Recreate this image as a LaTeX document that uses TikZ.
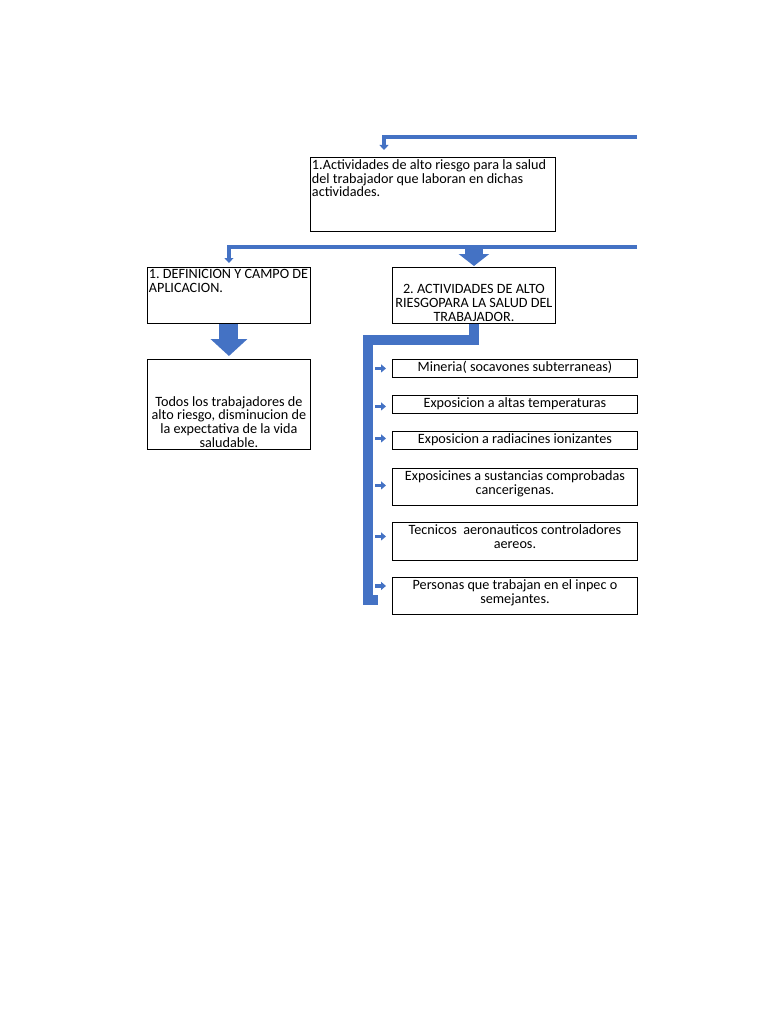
\documentclass[tikz,border=0pt]{standalone}
\usepackage{fontspec}
\setmainfont{Carlito}
\usetikzlibrary{arrows.meta}
\definecolor{officeblue}{RGB}{68,114,196}
\newcommand{\boxtext}[4]{\parbox[t][#2][#3]{#1}{#4}}
\tikzset{
    box/.style={draw, line width=0.9pt, inner ysep=2pt, inner xsep=1.5pt, anchor=north west, font=\fontsize{14.2}{13.8}\selectfont},
    feed/.style={officeblue, line width=4.5pt, -{Triangle[width=9pt,length=5pt]}},
    bigarrow/.style={officeblue, line width=19pt, -{Triangle[width=36pt,length=17pt]}},
    smallbig/.style={officeblue, line width=18pt, -{Triangle[width=30pt,length=12pt]}},
    elbow/.style={officeblue, line width=10pt, line join=miter},
    itemarrow/.style={officeblue, line width=3.5pt, -{Triangle[width=8pt,length=5pt]}}
}
\frenchspacing
\begin{document}
\begin{tikzpicture}[x=1pt, y=-1pt]
    \useasboundingbox (0,0) rectangle (768,1024);
    % Main box
    \node[box] (main) at (310,157) {\boxtext{242pt}{70pt}{t}{\raggedright 1.Actividades de alto riesgo para la salud del trabajador que laboran en dichas actividades.}};
    % Level 1
    \node[box] (defin) at (147,267) {\boxtext{160pt}{52pt}{t}{\raggedright 1. DEFINICION Y CAMPO DE\\APLICACION.}};
    \node[box] (todos) at (147,359) {\boxtext{160pt}{86pt}{b}{\centering Todos los trabajadores de alto riesgo, disminucion de la expectativa de la vida saludable.}};
    \node[box] (activ) at (392,267) {\boxtext{160pt}{52pt}{b}{\centering 2. ACTIVIDADES DE ALTO RIESGOPARA LA SALUD DEL TRABAJADOR.}};
    % Level 2
    \node[box] (mineria) at (392,359) {\boxtext{242pt}{14pt}{t}{\centering Mineria( socavones subterraneas)}};
    \node[box] (temper) at (392,395) {\boxtext{242pt}{14pt}{t}{\centering Exposicion a altas temperaturas}};
    \node[box] (radiac) at (392,431) {\boxtext{242pt}{14pt}{t}{\centering Exposicion a radiacines ionizantes}};
    \node[box] (sustan) at (392,468) {\boxtext{242pt}{33pt}{t}{\centering Exposicines a sustancias comprobadas cancerigenas.}};
    \node[box] (tecnic) at (392,522) {\boxtext{242pt}{34pt}{t}{\centering Tecnicos\ \ aeronauticos controladores aereos.}};
    \node[box] (person) at (392,577) {\boxtext{242pt}{33pt}{t}{\centering Personas que trabajan en el inpec o semejantes.}};
    % Connectors
    \coordinate (in1) at (637,137);
    \coordinate (in2) at (637,247);
    \coordinate (bend) at (368,340);
    \coordinate (foot) at (378,600);
    \draw[feed, shorten >=7pt] (in1) -| ([xshift=74pt]main.north west);
    \draw[feed, shorten >=4pt] (in2) -| (defin.north);
    \draw[smallbig, shorten >=1pt] (in2 -| activ.north) -- (activ.north);
    \draw[bigarrow, shorten >=3pt] (defin.south) -- (todos.north);
    \draw[elbow] (activ.south) |- (bend) |- (foot);
    \foreach \n/\dy in {mineria/0, temper/-2, radiac/2, sustan/1.5, tecnic/5, person/10} {
        \path ([yshift=\dy pt]\n.west) coordinate (tip);
        \draw[itemarrow, shorten <=7pt, shorten >=6pt] (tip -| bend) -- (tip);
    }
\end{tikzpicture}
\end{document}
